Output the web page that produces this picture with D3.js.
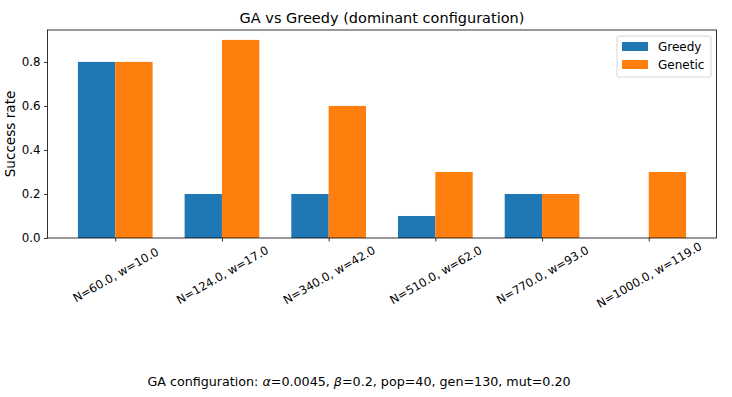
<!DOCTYPE html>
<html><head><meta charset="utf-8">
<script src="https://cdn.jsdelivr.net/npm/d3@7"></script>
<style>body{margin:0;background:#fff}svg{display:block;font-family:"DejaVu Sans",sans-serif}</style>
</head><body><svg id="c" width="732" height="397"></svg>
<script>
const categories = ["N=60.0, w=10.0","N=124.0, w=17.0","N=340.0, w=42.0","N=510.0, w=62.0","N=770.0, w=93.0","N=1000.0, w=119.0"];
const greedy = [0.8,0.2,0.2,0.1,0.2,0.0];
const genetic = [0.8,0.9,0.6,0.3,0.2,0.3];
const seriesNames = ["Greedy","Genetic"];
const colors = ["#1f77b4","#ff7f0e"];
const yTicks = [0.0,0.2,0.4,0.6,0.8];

const svg = d3.select("#c");
const L=47.5, R=716.5, T=30, B=238;
const barW = 0.35;
const x = d3.scaleLinear().domain([-0.635, 5.635]).range([L,R]);
const y = d3.scaleLinear().domain([0, 0.945]).range([B,T]);

const g = svg.append("g");
[greedy, genetic].forEach((vals, si) => {
  g.selectAll(null).data(vals).enter().append("rect")
    .attr("x", (d,i) => x(i + (si===0 ? -barW : 0)))
    .attr("width", x(barW) - x(0))
    .attr("y", d => y(d))
    .attr("height", d => y(0) - y(d))
    .attr("fill", colors[si]);
});

// axes
const yAxis = d3.axisLeft(y).tickValues(yTicks).tickFormat(d3.format(".1f")).tickSize(3.5).tickPadding(3.5);
const ya = svg.append("g").attr("transform",`translate(${L},0)`).call(yAxis);
ya.select(".domain").remove();
ya.selectAll("text").attr("font-size","11.8px").attr("fill","#000").attr("font-family","DejaVu Sans");
ya.selectAll("line").attr("stroke","#000").attr("stroke-width",0.8);

const xAxis = d3.axisBottom(x).tickValues(d3.range(categories.length)).tickFormat(i => categories[i]).tickSize(3.5).tickPadding(0);
const xa = svg.append("g").attr("transform",`translate(0,${B})`).call(xAxis);
xa.select(".domain").remove();
xa.selectAll("line").attr("stroke","#000").attr("stroke-width",0.8);
xa.selectAll("text").attr("font-size","11.6px").attr("fill","#000").attr("font-family","DejaVu Sans")
  .attr("y",null).attr("dy",null)
  .attr("text-anchor","middle").attr("dominant-baseline","central")
  .attr("transform","translate(0,37) rotate(-30)");

// frame
svg.append("rect").attr("x",L).attr("y",T).attr("width",R-L).attr("height",B-T)
  .attr("fill","none").attr("stroke","#000").attr("stroke-width",0.8);

// labels
svg.append("text").attr("x",(L+R)/2).attr("y",23).attr("text-anchor","middle")
  .attr("font-size","14.5px").text("GA vs Greedy (dominant configuration)");
svg.append("text").attr("transform",`translate(15,${(T+B)/2}) rotate(-90)`).attr("text-anchor","middle")
  .attr("font-size","13.6px").text("Success rate");
const ft = svg.append("text").attr("x",359).attr("y",386).attr("text-anchor","middle")
  .attr("font-size","12.7px");
ft.append("tspan").text("GA configuration: ");
ft.append("tspan").attr("font-style","italic").text("α");
ft.append("tspan").text("=0.0045, ");
ft.append("tspan").attr("font-style","italic").text("β");
ft.append("tspan").text("=0.2, pop=40, gen=130, mut=0.20");

// legend
const lg = svg.append("g");
lg.append("rect").attr("x",617).attr("y",36).attr("width",94).attr("height",41).attr("rx",2)
  .attr("fill","#fff").attr("fill-opacity",0.8).attr("stroke","#ccc").attr("stroke-width",0.8);
seriesNames.forEach((n,i)=>{
  lg.append("rect").attr("x",622).attr("y",42+i*18).attr("width",26).attr("height",9).attr("fill",colors[i]);
  lg.append("text").attr("x",658).attr("y",51+i*18).attr("font-size","12px").text(n);
});
</script></body></html>
